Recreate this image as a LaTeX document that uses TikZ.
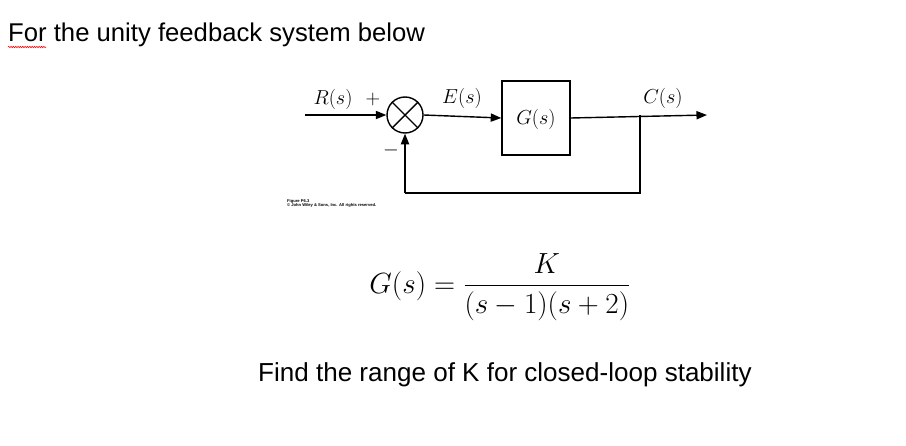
\documentclass[tikz,border=0pt]{standalone}
\usepackage{amsmath}
\usepackage{fontspec}
\setmainfont{Liberation Serif}
\newfontfamily\sansf{Liberation Sans}
\usetikzlibrary{arrows.meta,decorations.pathmorphing}
\begin{document}
\begin{tikzpicture}[x=0.03cm,y=-0.03cm,
  lab/.style={font=\fontsize{19}{22}\selectfont},
  sig/.style={line width=1.2pt},
  arr/.style={sig,-{Triangle[length=9pt,width=7pt]}},
  txt/.style={font=\sansf\fontsize{18}{22}\selectfont,inner sep=0pt}]
\useasboundingbox (0,0) rectangle (906,445);
\node[txt,anchor=west] (title) at (8,35) {\resizebox{12.5cm}{!}{For the unity feedback system below}};
\draw[red,line width=0.5pt,decorate,decoration={snake,amplitude=0.6pt,segment length=2pt}] (8,47) -- (46,47);
\coordinate (in) at (305,115);
\node[draw,circle,sig,minimum size=36*0.03cm,inner sep=0pt] (sum) at (405,115) {};
\draw[sig] (sum.north west) -- (sum.south east) (sum.north east) -- (sum.south west);
\node[draw,sig,minimum width=68*0.03cm,minimum height=74*0.03cm] (G) at (536,118) {};
\node[lab] (Gl) at (536,119) {$G(s)$};
\coordinate (tap) at (640,115);
\coordinate (out) at (707,115);
\coordinate (bot) at (640,193);
\coordinate (botl) at (405,193);
\draw[arr] (in) -- (sum.west);
\draw[arr] (sum.east) -- (G.west);
\draw[arr] (G.east) -- (out);
\draw[sig] (tap) -- (bot) -- (botl);
\draw[arr] (botl) -- (sum.south);
\node[lab] (R) at (333,99) {$R(s)$};
\node[lab] (plus) at (373,99) {$+$};
\node[lab] (E) at (462,98) {$E(s)$};
\node[lab] (C) at (663,98) {$C(s)$};
\node[lab] (minus) at (391,150) {$-$};
\node[font=\sansf\fontsize{3.5}{4}\selectfont\bfseries,anchor=north west,align=left,inner sep=0pt] (cap) at (287,199) {Figure P6.3\\\textcopyright\ John Wiley \& Sons, Inc. All rights reserved.};
\node[font=\fontsize{28}{32}\selectfont] (eq) at (500,287) {$G(s) = \dfrac{K}{(s-1)(s+2)}$};
\node[txt,anchor=west] (find) at (258,375) {\resizebox{14.8cm}{!}{Find the range of K for closed-loop stability}};
\end{tikzpicture}
\end{document}
